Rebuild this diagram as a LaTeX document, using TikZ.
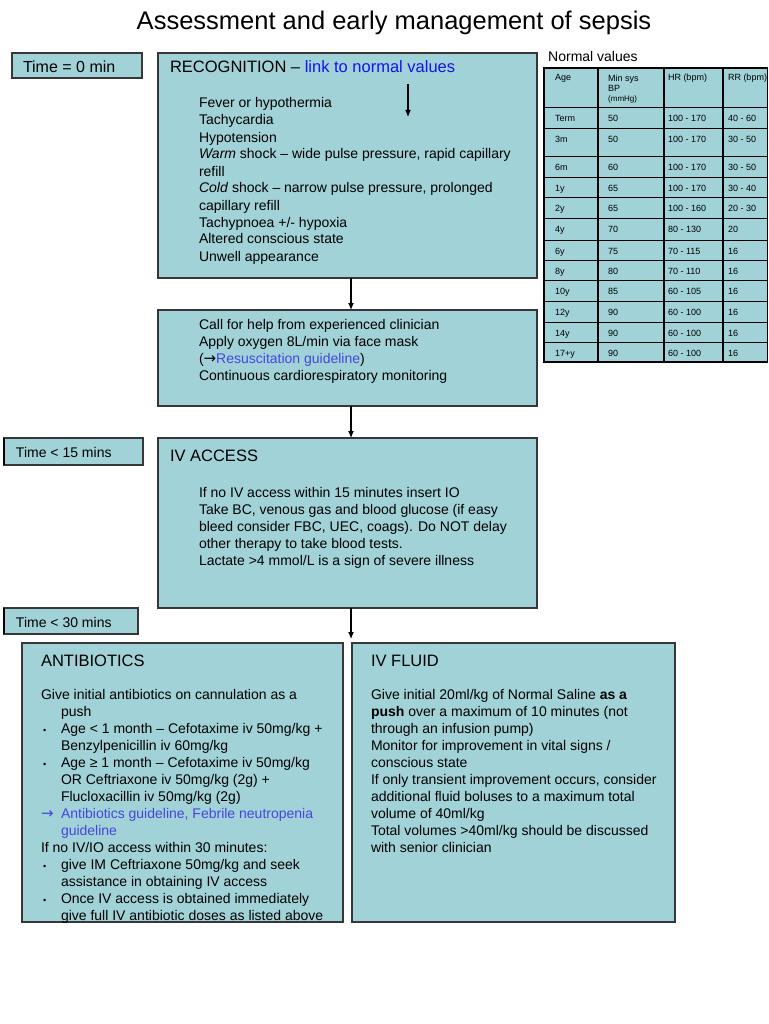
\documentclass[tikz,border=0pt]{standalone}
\usepackage{fontspec}
\setmainfont{Liberation Sans}
\newfontfamily\arrowfont{DejaVu Sans}
\usetikzlibrary{arrows.meta}
\definecolor{boxfill}{RGB}{161,210,215}
\definecolor{boxline}{RGB}{55,55,55}
\definecolor{linkblue}{RGB}{20,20,235}
\definecolor{linkblue2}{RGB}{70,70,220}
\newcommand\abxbul{\makebox[20pt][l]{\hspace{2pt}{\fontsize{9}{9}\selectfont\textbullet}}}
\newcommand\abxind{\hspace*{20pt}}
\newcommand\rarr{{\arrowfont\fontsize{15}{17}\selectfont →}}
\begin{document}
\begin{tikzpicture}[x=1pt,y=-1pt,
  box/.style={draw=boxline, fill=boxfill, line width=1.1pt, anchor=north west, inner sep=0pt, outer sep=0pt},
  txt/.style={anchor=north west, inner sep=0pt, outer sep=0pt, align=left, font=\fontsize{14}{17}\selectfont},
  head/.style={anchor=base west, inner sep=0pt, outer sep=0pt, font=\fontsize{16.5}{20}\selectfont},
  timetxt/.style={anchor=base west, inner sep=0pt, outer sep=0pt, font=\fontsize{14}{17}\selectfont},
  arr/.style={-{Latex[length=7pt,width=6pt]}, line width=1.1pt, black},
  tab/.style={anchor=base west, inner sep=0pt, outer sep=0pt, font=\fontsize{9}{10}\selectfont},
]
\useasboundingbox (0,0) rectangle (768,1024);
\fill[white] (0,0) rectangle (768,1024);

% title
\node[anchor=base, inner sep=0pt, font=\fontsize{25.5}{30}\selectfont] (title) at (394,30) {Assessment and early management of sepsis};

% time boxes
\node[box, minimum width=130pt, minimum height=25pt] (t0) at (12,53) {};
\node[timetxt, font=\fontsize{16}{19}\selectfont] (t0t) at (23,73) {Time = 0 min};
\node[box, minimum width=139pt, minimum height=27pt] (t15) at (4,438) {};
\draw[line width=2pt, black] (t15.north west) -- (t15.south west);
\node[timetxt] (t15t) at (16,457) {Time < 15 mins};
\node[box, minimum width=134pt, minimum height=26pt] (t30) at (4,608) {};
\draw[line width=2pt, black] (t30.north west) -- (t30.south west);
\node[timetxt] (t30t) at (16,627) {Time < 30 mins};

% recognition
\node[box, minimum width=379pt, minimum height=225pt] (rec) at (158,53) {};
\node[head] (rech) at (170,73) {RECOGNITION -- \textcolor{linkblue}{link to normal values}};
\node[txt] (rect) at (199,96.1) {\strut Fever or hypothermia\\
Tachycardia\\
Hypotension\\
\textit{Warm} shock -- wide pulse pressure, rapid capillary\\
refill\\
\textit{Cold} shock -- narrow pulse pressure, prolonged\\
capillary refill\\
Tachypnoea +/- hypoxia\\
Altered conscious state\\
Unwell appearance};
\coordinate (la) at (408,84);
\coordinate (lb) at (408,117);
\draw[arr] (la) -- (lb);

% actions
\node[box, minimum width=379pt, minimum height=96pt] (act) at (158,310) {};
\node[txt] (actt) at (199,317.1) {\strut Call for help from experienced clinician\\
Apply oxygen 8L/min via face mask\\
(\rarr\textcolor{linkblue2}{Resuscitation guideline})\\
Continuous cardiorespiratory monitoring};

% IV access
\node[box, minimum width=379pt, minimum height=170pt] (iva) at (158,438) {};
\node[head] (ivah) at (170,461) {IV ACCESS};
\node[txt] (ivat) at (199,485.1) {\strut If no IV access within 15 minutes insert IO\\
Take BC, venous gas and blood glucose (if easy\\
bleed consider FBC, UEC, coags). Do NOT delay\\
other therapy to take blood tests.\\
Lactate >4 mmol/L is a sign of severe illness};

% antibiotics
\node[box, minimum width=321pt, minimum height=279pt] (abx) at (22,643) {};
\node[head] (abxh) at (41,666) {ANTIBIOTICS};
\node[txt] (abxt) at (41,687.1) {\strut Give initial antibiotics on cannulation as a\\
\abxind push\\
\abxbul Age < 1 month -- Cefotaxime iv 50mg/kg +\\
\abxind Benzylpenicillin iv 60mg/kg\\
\abxbul Age ≥ 1 month -- Cefotaxime iv 50mg/kg\\
\abxind OR Ceftriaxone iv 50mg/kg (2g) +\\
\abxind Flucloxacillin iv 50mg/kg (2g)\\
\textcolor{linkblue2}{\makebox[20pt][l]{\rarr}Antibiotics guideline, Febrile neutropenia}\\
\abxind\textcolor{linkblue2}{guideline}\\
If no IV/IO access within 30 minutes:\\
\abxbul give IM Ceftriaxone 50mg/kg and seek\\
\abxind assistance in obtaining IV access\\
\abxbul Once IV access is obtained immediately\\
\abxind give full IV antibiotic doses as listed above};

% IV fluid
\node[box, minimum width=323pt, minimum height=279pt] (flu) at (352,643) {};
\node[head] (fluh) at (371,666) {IV FLUID};
\node[txt] (flut) at (371,687.1) {\strut Give initial 20ml/kg of Normal Saline \textbf{as a}\\
\textbf{push} over a maximum of 10 minutes (not\\
through an infusion pump)\\
Monitor for improvement in vital signs /\\
conscious state\\
If only transient improvement occurs, consider\\
additional fluid boluses to a maximum total\\
volume of 40ml/kg\\
Total volumes >40ml/kg should be discussed\\
with senior clinician};

% connectors
\coordinate (ax) at (351,0);
\coordinate (split) at (351,639);
\draw[arr] (rec.south -| ax) -- (act.north -| ax);
\draw[arr] (act.south -| ax) -- (iva.north -| ax);
\draw[arr] (iva.south -| ax) -- (split);

% normal values table
\node[anchor=base west, inner sep=0pt, font=\fontsize{14}{16}\selectfont] (nv) at (548,62) {Normal values};
\fill[boxfill] (544,68) rectangle (767.5,362);
\foreach \yy in {108,129,157,178,198,219,240,260,280,301,322,342}
  \draw[line width=1pt, black] (544,\yy) -- (767.5,\yy);
\foreach \xx in {598,664,723}
  \draw[line width=1.2pt, black] (\xx,68) -- (\xx,362);
\draw[line width=1.6pt, black] (544,68) rectangle (767.5,362);
\node[tab] (hage) at (555,81) {Age};
\node[anchor=north west, inner sep=0pt, align=left, font=\fontsize{9}{10}\selectfont] (hbp) at (608,74) {\strut Min sys\\ BP\\ {\fontsize{8}{10}\selectfont (mmHg)}};
\node[tab] (hhr) at (668,81) {HR (bpm)};
\node[tab] (hrr) at (728,81) {RR (bpm)};
\foreach \ry/\ca/\cb/\cc/\cd [count=\i] in {
  108/Term/50/100 - 170/40 - 60,
  129/3m/50/100 - 170/30 - 50,
  157/6m/60/100 - 170/30 - 50,
  178/1y/65/100 - 170/30 - 40,
  198/2y/65/100 - 160/20 - 30,
  219/4y/70/80 - 130/20,
  240/6y/75/70 - 115/16,
  260/8y/80/70 - 110/16,
  280/10y/85/60 - 105/16,
  301/12y/90/60 - 100/16,
  322/14y/90/60 - 100/16,
  342/17+y/90/60 - 100/16}{
  \node[tab] (ra\i) at (555,{\ry+14}) {\ca};
  \node[tab] (rb\i) at (608,{\ry+14}) {\cb};
  \node[tab] (rc\i) at (668,{\ry+14}) {\cc};
  \node[tab] (rd\i) at (728,{\ry+14}) {\cd};
}
\end{tikzpicture}
\end{document}
